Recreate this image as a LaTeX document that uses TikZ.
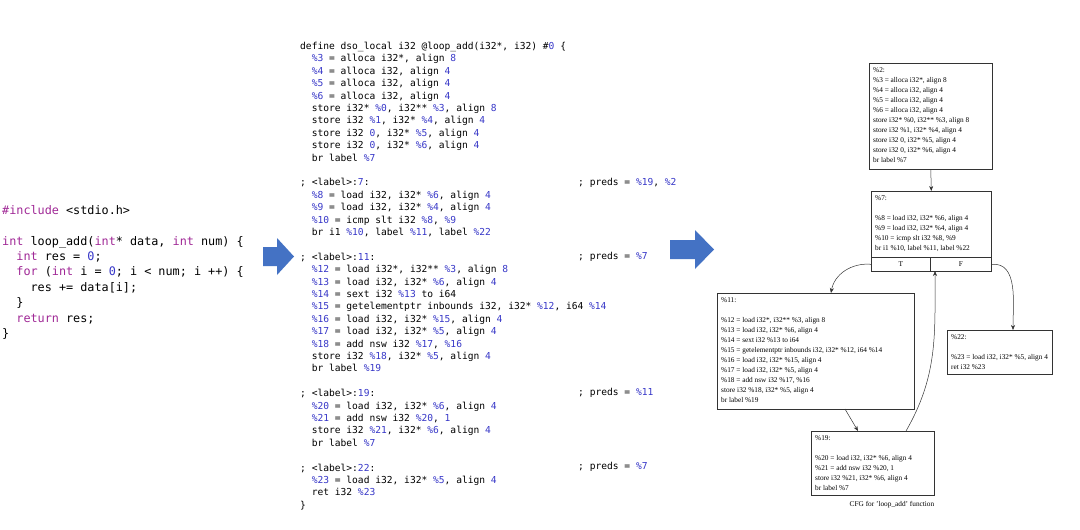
\documentclass[tikz,border=0pt]{standalone}
\usepackage{fontspec}
\setmainfont{Liberation Serif}
\newfontfamily\codefont{DejaVu Sans Mono}
\usetikzlibrary{arrows.meta}
\definecolor{numblue}{RGB}{55,55,200}
\definecolor{kwmag}{RGB}{160,40,150}
\definecolor{arrblue}{RGB}{68,114,196}
\newcommand{\B}[1]{\textcolor{numblue}{#1}}
\newcommand{\K}[1]{\textcolor{kwmag}{#1}}
\begin{document}
\begin{tikzpicture}[x=1pt,y=-1pt,
  ccode/.style={anchor=north west,inner sep=0pt,align=left,font=\codefont\fontsize{11.8}{15.4}\selectfont},
  ir/.style={anchor=north west,inner sep=0pt,align=left,font=\codefont\fontsize{9.6}{12.4}\selectfont},
  blk/.style={draw=black!80,line width=0.6pt,anchor=north west,inner sep=0pt},
  blktxt/.style={anchor=north west,inner sep=0pt,align=left,font=\fontsize{7.3}{10}\selectfont},
  arr/.style={-{Stealth[length=5pt,width=4pt]},line width=0.5pt,black!80},
  bigarr/.style={fill=arrblue}]
\useasboundingbox (0,0) rectangle (1080,530);
\fill[white] (0,0) rectangle (1080,530);
% left C code
\node[ccode] (csrc) at (2,205) {\K{\#include} {<}stdio.h{>}\\[15.4pt]
\K{int} loop\_add(\K{int}* data, \K{int} num) \{\\
\ \ \K{int} res = \B{0};\\
\ \ \K{for} (\K{int} i = \B{0}; i < num; i ++) \{\\
\ \ \ \ res += data[i];\\
\ \ \}\\
\ \ \K{return} res;\\
\}};
% arrows
\fill[bigarr] (263,247) -- (277,247) -- (277,238) -- (294,256.5) -- (277,275) -- (277,266) -- (263,266) -- cycle;
\fill[bigarr] (670,240) -- (695,240) -- (695,230) -- (714,249.5) -- (695,269) -- (695,259) -- (670,259) -- cycle;
% IR code
\node[ir] (irc) at (300,42) {define dso\_local i32 @loop\_add(i32*, i32) \#\B{0} \{\\
\ \ \B{\%3} = alloca i32*, align \B{8}\\
\ \ \B{\%4} = alloca i32, align \B{4}\\
\ \ \B{\%5} = alloca i32, align \B{4}\\
\ \ \B{\%6} = alloca i32, align \B{4}\\
\ \ store i32* \B{\%0}, i32** \B{\%3}, align \B{8}\\
\ \ store i32 \B{\%1}, i32* \B{\%4}, align \B{4}\\
\ \ store i32 \B{0}, i32* \B{\%5}, align \B{4}\\
\ \ store i32 \B{0}, i32* \B{\%6}, align \B{4}\\
\ \ br label \B{\%7}\\[12.4pt]
; <label>:\B{7}:\\
\ \ \B{\%8} = load i32, i32* \B{\%6}, align \B{4}\\
\ \ \B{\%9} = load i32, i32* \B{\%4}, align \B{4}\\
\ \ \B{\%10} = icmp slt i32 \B{\%8}, \B{\%9}\\
\ \ br i1 \B{\%10}, label \B{\%11}, label \B{\%22}\\[12.4pt]
; <label>:\B{11}:\\
\ \ \B{\%12} = load i32*, i32** \B{\%3}, align \B{8}\\
\ \ \B{\%13} = load i32, i32* \B{\%6}, align \B{4}\\
\ \ \B{\%14} = sext i32 \B{\%13} to i64\\
\ \ \B{\%15} = getelementptr inbounds i32, i32* \B{\%12}, i64 \B{\%14}\\
\ \ \B{\%16} = load i32, i32* \B{\%15}, align \B{4}\\
\ \ \B{\%17} = load i32, i32* \B{\%5}, align \B{4}\\
\ \ \B{\%18} = add nsw i32 \B{\%17}, \B{\%16}\\
\ \ store i32 \B{\%18}, i32* \B{\%5}, align \B{4}\\
\ \ br label \B{\%19}\\[12.4pt]
; <label>:\B{19}:\\
\ \ \B{\%20} = load i32, i32* \B{\%6}, align \B{4}\\
\ \ \B{\%21} = add nsw i32 \B{\%20}, \B{1}\\
\ \ store i32 \B{\%21}, i32* \B{\%6}, align \B{4}\\
\ \ br label \B{\%7}\\[12.4pt]
; <label>:\B{22}:\\
\ \ \B{\%23} = load i32, i32* \B{\%5}, align \B{4}\\
\ \ ret i32 \B{\%23}\\
\}};
\node[ir] (p7) at (578,178.5) {; preds = \B{\%19}, \B{\%2}};
\node[ir] (p11) at (578,252) {; preds = \B{\%7}};
\node[ir] (p19) at (578,388) {; preds = \B{\%11}};
\node[ir] (p22) at (578,462) {; preds = \B{\%7}};
% CFG
\node[blk,minimum width=123pt,minimum height=106pt] (b2) at (869,63) {};
\node[blktxt] (t2) at (873,67) {\%2:\\
\%3 = alloca i32*, align 8\\
\%4 = alloca i32, align 4\\
\%5 = alloca i32, align 4\\
\%6 = alloca i32, align 4\\
store i32* \%0, i32** \%3, align 8\\
store i32 \%1, i32* \%4, align 4\\
store i32 0, i32* \%5, align 4\\
store i32 0, i32* \%6, align 4\\
br label \%7};
\node[blk,minimum width=120pt,minimum height=66pt] (b7) at (871,191) {};
\node[blktxt] (t7) at (875,195) {\%7:\\[10pt]
\%8 = load i32, i32* \%6, align 4\\
\%9 = load i32, i32* \%4, align 4\\
\%10 = icmp slt i32 \%8, \%9\\
br i1 \%10, label \%11, label \%22};
\node[blk,minimum width=59pt,minimum height=14pt,font=\fontsize{7.3}{8}\selectfont] (T) at (871,257) {T};
\node[blk,minimum width=61pt,minimum height=14pt,font=\fontsize{7.3}{8}\selectfont] (F) at (930,257) {F};
\node[blk,minimum width=197pt,minimum height=116pt] (b11) at (717,293) {};
\node[blktxt] (t11) at (721,297) {\%11:\\[10pt]
\%12 = load i32*, i32** \%3, align 8\\
\%13 = load i32, i32* \%6, align 4\\
\%14 = sext i32 \%13 to i64\\
\%15 = getelementptr inbounds i32, i32* \%12, i64 \%14\\
\%16 = load i32, i32* \%15, align 4\\
\%17 = load i32, i32* \%5, align 4\\
\%18 = add nsw i32 \%17, \%16\\
store i32 \%18, i32* \%5, align 4\\
br label \%19};
\node[blk,minimum width=105pt,minimum height=44pt] (b22) at (947,330) {};
\node[blktxt] (t22) at (951,334) {\%22:\\[10pt]
\%23 = load i32, i32* \%5, align 4\\
ret i32 \%23};
\node[blk,minimum width=123pt,minimum height=64pt] (b19) at (811,431) {};
\node[blktxt] (t19) at (815,435) {\%19:\\[10pt]
\%20 = load i32, i32* \%6, align 4\\
\%21 = add nsw i32 \%20, 1\\
store i32 \%21, i32* \%6, align 4\\
br label \%7};
\node[font=\fontsize{7.3}{8}\selectfont,inner sep=0pt] (cap) at (892,505) {CFG for 'loop\_add' function};
% edges
\coordinate (in11) at (831,293);
\coordinate (in22) at (1013,330);
\coordinate (out11) at (845,409);
\coordinate (in19) at (858,431);
\coordinate (out19) at (906,431);
\coordinate (in7) at (935,271);
\draw[arr] (b2.south) -- (b7.north);
\draw[arr] (T.west) to[out=175,in=80] (in11);
\draw[arr] (F.east) to[out=5,in=90] (in22);
\draw[arr] (out11) -- (in19);
\draw[arr] (out19) to[out=60,in=-90] (in7);
\end{tikzpicture}
\end{document}
